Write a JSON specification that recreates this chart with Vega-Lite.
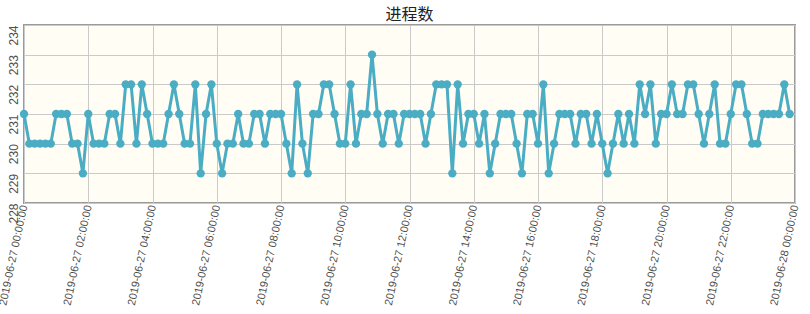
{
  "$schema": "https://vega.github.io/schema/vega-lite/v6.json",
  "autosize": {"type": "fit", "contains": "padding"},
  "width": 810,
  "height": 314,
  "padding": {"left": -4, "top": 7, "right": 10, "bottom": 0},
  "background": "#ffffff",
  "title": {"text": "进程数", "font": "Noto Sans CJK SC", "fontSize": 16, "fontWeight": "normal", "color": "#222222", "anchor": "middle", "offset": 2},
  "config": {
    "view": {"fill": "#fffdf4", "stroke": "#9a9a9a", "strokeWidth": 2},
    "axis": {"labelFont": "Liberation Sans", "labelFontSize": 11, "labelColor": "#505050", "gridColor": "#cacaca", "gridWidth": 1, "domain": false, "ticks": false}
  },
  "data": {"values": [
{"t":"2019-06-27T00:00:00","v":231},{"t":"2019-06-27T00:10:00","v":230},{"t":"2019-06-27T00:20:00","v":230},{"t":"2019-06-27T00:30:00","v":230},{"t":"2019-06-27T00:40:00","v":230},{"t":"2019-06-27T00:50:00","v":230},
{"t":"2019-06-27T01:00:00","v":231},{"t":"2019-06-27T01:10:00","v":231},{"t":"2019-06-27T01:20:00","v":231},{"t":"2019-06-27T01:30:00","v":230},{"t":"2019-06-27T01:40:00","v":230},{"t":"2019-06-27T01:50:00","v":229},
{"t":"2019-06-27T02:00:00","v":231},{"t":"2019-06-27T02:10:00","v":230},{"t":"2019-06-27T02:20:00","v":230},{"t":"2019-06-27T02:30:00","v":230},{"t":"2019-06-27T02:40:00","v":231},{"t":"2019-06-27T02:50:00","v":231},
{"t":"2019-06-27T03:00:00","v":230},{"t":"2019-06-27T03:10:00","v":232},{"t":"2019-06-27T03:20:00","v":232},{"t":"2019-06-27T03:30:00","v":230},{"t":"2019-06-27T03:40:00","v":232},{"t":"2019-06-27T03:50:00","v":231},
{"t":"2019-06-27T04:00:00","v":230},{"t":"2019-06-27T04:10:00","v":230},{"t":"2019-06-27T04:20:00","v":230},{"t":"2019-06-27T04:30:00","v":231},{"t":"2019-06-27T04:40:00","v":232},{"t":"2019-06-27T04:50:00","v":231},
{"t":"2019-06-27T05:00:00","v":230},{"t":"2019-06-27T05:10:00","v":230},{"t":"2019-06-27T05:20:00","v":232},{"t":"2019-06-27T05:30:00","v":229},{"t":"2019-06-27T05:40:00","v":231},{"t":"2019-06-27T05:50:00","v":232},
{"t":"2019-06-27T06:00:00","v":230},{"t":"2019-06-27T06:10:00","v":229},{"t":"2019-06-27T06:20:00","v":230},{"t":"2019-06-27T06:30:00","v":230},{"t":"2019-06-27T06:40:00","v":231},{"t":"2019-06-27T06:50:00","v":230},
{"t":"2019-06-27T07:00:00","v":230},{"t":"2019-06-27T07:10:00","v":231},{"t":"2019-06-27T07:20:00","v":231},{"t":"2019-06-27T07:30:00","v":230},{"t":"2019-06-27T07:40:00","v":231},{"t":"2019-06-27T07:50:00","v":231},
{"t":"2019-06-27T08:00:00","v":231},{"t":"2019-06-27T08:10:00","v":230},{"t":"2019-06-27T08:20:00","v":229},{"t":"2019-06-27T08:30:00","v":232},{"t":"2019-06-27T08:40:00","v":230},{"t":"2019-06-27T08:50:00","v":229},
{"t":"2019-06-27T09:00:00","v":231},{"t":"2019-06-27T09:10:00","v":231},{"t":"2019-06-27T09:20:00","v":232},{"t":"2019-06-27T09:30:00","v":232},{"t":"2019-06-27T09:40:00","v":231},{"t":"2019-06-27T09:50:00","v":230},
{"t":"2019-06-27T10:00:00","v":230},{"t":"2019-06-27T10:10:00","v":232},{"t":"2019-06-27T10:20:00","v":230},{"t":"2019-06-27T10:30:00","v":231},{"t":"2019-06-27T10:40:00","v":231},{"t":"2019-06-27T10:50:00","v":233},
{"t":"2019-06-27T11:00:00","v":231},{"t":"2019-06-27T11:10:00","v":230},{"t":"2019-06-27T11:20:00","v":231},{"t":"2019-06-27T11:30:00","v":231},{"t":"2019-06-27T11:40:00","v":230},{"t":"2019-06-27T11:50:00","v":231},
{"t":"2019-06-27T12:00:00","v":231},{"t":"2019-06-27T12:10:00","v":231},{"t":"2019-06-27T12:20:00","v":231},{"t":"2019-06-27T12:30:00","v":230},{"t":"2019-06-27T12:40:00","v":231},{"t":"2019-06-27T12:50:00","v":232},
{"t":"2019-06-27T13:00:00","v":232},{"t":"2019-06-27T13:10:00","v":232},{"t":"2019-06-27T13:20:00","v":229},{"t":"2019-06-27T13:30:00","v":232},{"t":"2019-06-27T13:40:00","v":230},{"t":"2019-06-27T13:50:00","v":231},
{"t":"2019-06-27T14:00:00","v":231},{"t":"2019-06-27T14:10:00","v":230},{"t":"2019-06-27T14:20:00","v":231},{"t":"2019-06-27T14:30:00","v":229},{"t":"2019-06-27T14:40:00","v":230},{"t":"2019-06-27T14:50:00","v":231},
{"t":"2019-06-27T15:00:00","v":231},{"t":"2019-06-27T15:10:00","v":231},{"t":"2019-06-27T15:20:00","v":230},{"t":"2019-06-27T15:30:00","v":229},{"t":"2019-06-27T15:40:00","v":231},{"t":"2019-06-27T15:50:00","v":231},
{"t":"2019-06-27T16:00:00","v":230},{"t":"2019-06-27T16:10:00","v":232},{"t":"2019-06-27T16:20:00","v":229},{"t":"2019-06-27T16:30:00","v":230},{"t":"2019-06-27T16:40:00","v":231},{"t":"2019-06-27T16:50:00","v":231},
{"t":"2019-06-27T17:00:00","v":231},{"t":"2019-06-27T17:10:00","v":230},{"t":"2019-06-27T17:20:00","v":231},{"t":"2019-06-27T17:30:00","v":231},{"t":"2019-06-27T17:40:00","v":230},{"t":"2019-06-27T17:50:00","v":231},
{"t":"2019-06-27T18:00:00","v":230},{"t":"2019-06-27T18:10:00","v":229},{"t":"2019-06-27T18:20:00","v":230},{"t":"2019-06-27T18:30:00","v":231},{"t":"2019-06-27T18:40:00","v":230},{"t":"2019-06-27T18:50:00","v":231},
{"t":"2019-06-27T19:00:00","v":230},{"t":"2019-06-27T19:10:00","v":232},{"t":"2019-06-27T19:20:00","v":231},{"t":"2019-06-27T19:30:00","v":232},{"t":"2019-06-27T19:40:00","v":230},{"t":"2019-06-27T19:50:00","v":231},
{"t":"2019-06-27T20:00:00","v":231},{"t":"2019-06-27T20:10:00","v":232},{"t":"2019-06-27T20:20:00","v":231},{"t":"2019-06-27T20:30:00","v":231},{"t":"2019-06-27T20:40:00","v":232},{"t":"2019-06-27T20:50:00","v":232},
{"t":"2019-06-27T21:00:00","v":231},{"t":"2019-06-27T21:10:00","v":230},{"t":"2019-06-27T21:20:00","v":231},{"t":"2019-06-27T21:30:00","v":232},{"t":"2019-06-27T21:40:00","v":230},{"t":"2019-06-27T21:50:00","v":230},
{"t":"2019-06-27T22:00:00","v":231},{"t":"2019-06-27T22:10:00","v":232},{"t":"2019-06-27T22:20:00","v":232},{"t":"2019-06-27T22:30:00","v":231},{"t":"2019-06-27T22:40:00","v":230},{"t":"2019-06-27T22:50:00","v":230},
{"t":"2019-06-27T23:00:00","v":231},{"t":"2019-06-27T23:10:00","v":231},{"t":"2019-06-27T23:20:00","v":231},{"t":"2019-06-27T23:30:00","v":231},{"t":"2019-06-27T23:40:00","v":232},{"t":"2019-06-27T23:50:00","v":231}
  ]},
  "encoding": {
    "x": {"field": "t", "type": "temporal", "title": null,
      "scale": {"domain": [{"year": 2019, "month": 6, "date": 27, "hours": 0}, {"year": 2019, "month": 6, "date": 28, "hours": 0}]},
      "axis": {"values": [
        {"year": 2019, "month": 6, "date": 27, "hours": 0}, {"year": 2019, "month": 6, "date": 27, "hours": 2}, {"year": 2019, "month": 6, "date": 27, "hours": 4},
        {"year": 2019, "month": 6, "date": 27, "hours": 6}, {"year": 2019, "month": 6, "date": 27, "hours": 8}, {"year": 2019, "month": 6, "date": 27, "hours": 10},
        {"year": 2019, "month": 6, "date": 27, "hours": 12}, {"year": 2019, "month": 6, "date": 27, "hours": 14}, {"year": 2019, "month": 6, "date": 27, "hours": 16},
        {"year": 2019, "month": 6, "date": 27, "hours": 18}, {"year": 2019, "month": 6, "date": 27, "hours": 20}, {"year": 2019, "month": 6, "date": 27, "hours": 22},
        {"year": 2019, "month": 6, "date": 28, "hours": 0}],
        "format": "%Y-%m-%d %H:%M:%S", "labelAngle": -78, "labelPadding": 2, "labelOverlap": false, "minExtent": 111, "maxExtent": 111}},
    "y": {"field": "v", "type": "quantitative", "title": null,
      "scale": {"domain": [228, 234], "nice": false, "zero": false},
      "axis": {"tickCount": 6, "labelAngle": -90, "labelAlign": "right", "labelFontSize": 12, "labelPadding": 4, "labelOverlap": false, "minExtent": 14, "maxExtent": 14}}
  },
  "mark": {"type": "line", "color": "#4aadc4", "strokeWidth": 3, "point": {"filled": true, "size": 70, "color": "#4aadc4", "opacity": 1}}
}
